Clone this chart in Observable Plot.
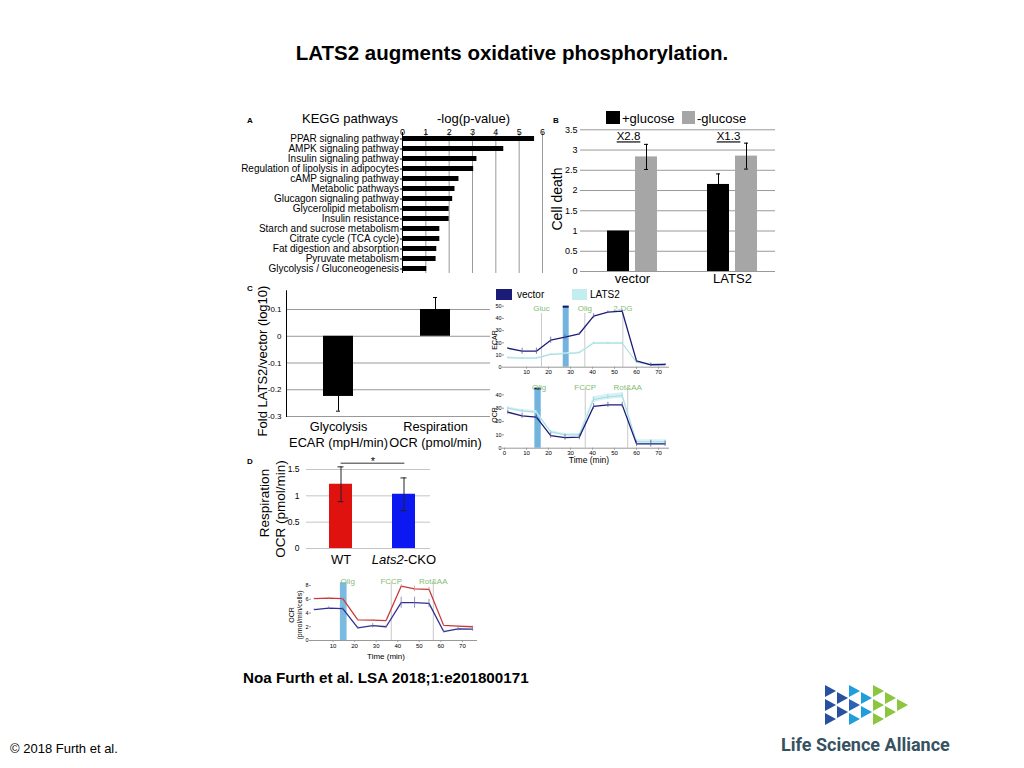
<!DOCTYPE html>
<html><head><meta charset="utf-8">
<script src="https://cdn.jsdelivr.net/npm/d3@7"></script>
<script src="https://cdn.jsdelivr.net/npm/@observablehq/plot@0.6"></script>
<style>
html,body{margin:0;padding:0;background:#fff;}
#root{position:relative;width:1024px;height:768px;overflow:hidden;background:#fff;font-family:"Liberation Sans",Arial,Helvetica,sans-serif;color:#000;}
.lbl{position:absolute;white-space:nowrap;line-height:1;}
.panel{position:absolute;}
.panel svg{overflow:visible;display:block;}
.sw{position:absolute;}
</style></head><body><div id="root"></div>
<script>
// ---------------- DATA ----------------
const titleText = "LATS2 augments oxidative phosphorylation.";
const captionText = "Noa Furth et al. LSA 2018;1:e201800171";
const copyrightText = "© 2018 Furth et al.";
const brandText = "Life Science Alliance";

// Panel A – KEGG pathways
const keggPathways = ["PPAR signaling pathway","AMPK signaling pathway","Insulin signaling pathway","Regulation of lipolysis in adipocytes","cAMP signaling pathway","Metabolic pathways","Glucagon signaling pathway","Glycerolipid metabolism","Insulin resistance","Starch and sucrose metabolism","Citrate cycle (TCA cycle)","Fat digestion and absorption","Pyruvate metabolism","Glycolysis / Gluconeogenesis"];
const keggScores = [5.66, 4.34, 3.19, 3.05, 2.42, 2.25, 2.15, 2.0, 2.0, 1.6, 1.6, 1.47, 1.44, 1.04];
const keggTicks = [0, 1, 2, 3, 4, 5, 6];

// Panel B – cell death
const deathGroups = ["vector", "LATS2"];
const deathConditions = ["+glucose", "-glucose"];
const deathPlus = [1.0, 2.15];
const deathMinus = [2.83, 2.85];
const deathPlusErr = [0, 0.26];
const deathMinusErr = [0.31, 0.32];
const deathFolds = ["X2.8", "X1.3"];
const deathFoldLevel = 3.33;
const deathTicks = [0, 0.5, 1, 1.5, 2, 2.5, 3, 3.5];

// Panel C – fold change
const foldCategories = ["Glycolysis\nECAR (mpH/min)", "Respiration\nOCR (pmol/min)"];
const foldValues = [-0.225, 0.1];
const foldErrors = [0.055, 0.045];
const foldTicks = [-0.3, -0.2, -0.1, 0, 0.1];

// Seahorse traces (cell lines)
const seahorseTimes = [1.5, 8, 14.5, 21, 27.5, 34, 40.5, 47, 53.5, 60, 66.5, 73];
const ecarVector = [15.6, 13.1, 13.1, 22.1, 24.6, 27.4, 41.8, 45.1, 45.9, 5.2, 2.0, 2.2];
const ecarVectorErr = [0.5, 2.5, 2.5, 2.5, 2, 1, 2, 1, 1, 1.5, 1.5, 0.5];
const ecarLats2 = [7.7, 7.4, 7.4, 10.4, 11.1, 11.8, 19.7, 19.7, 19.7, 4.1, 2.2, 2.2];
const ecarLats2Err = [0.6, 0.6, 0.6, 0.6, 0.6, 0.6, 0.7, 0.7, 0.7, 0.8, 0.8, 0.8];
const ecarInjectionNames = ["Gluc", "Olig", "2-DG"];
const ecarInjectionTimes = [16.8, 36.5, 53.8];
const ecarWindow = [26.7, 29.4];
const ecarYTicks = [0, 10, 20, 30, 40, 50];
const ecarXTicks = [10, 20, 30, 40, 50, 60, 70];

const ocrVector = [27, 24.3, 23.3, 9.5, 8.0, 8.3, 31.3, 32.5, 32.5, 3.3, 3.3, 3.3];
const ocrVectorErr = [1.5, 2, 2, 2, 2, 2, 2, 2, 2, 2, 2.5, 2];
const ocrLats2 = [30, 28, 27, 12.3, 10, 10, 36.5, 38.5, 39.5, 4.8, 4.8, 4.8];
const ocrLats2Err = [1, 1, 1, 1, 1, 1, 2, 2, 2, 1.5, 1.5, 1.5];
const ocrInjectionNames = ["FCCP", "Rot&AA"];
const ocrInjectionTimes = [36.7, 56];
const ocrWindow = [13.8, 16.7];
const ocrWindowName = "Olig";
const ocrYTicks = [0, 10, 20, 30, 40];
const ocrXTicks = [0, 10, 20, 30, 40, 50, 60, 70];
const seriesNames = ["vector", "LATS2"];

// Panel D – mouse respiration
const respGroups = ["WT", "Lats2-CKO"];
const respValues = [1.22, 1.03];
const respErrors = [0.33, 0.31];
const respTicks = [0, 0.5, 1, 1.5];
const sigLevel = 1.62;
const sigLabel = "*";

// Mouse OCR trace
const mouseTimes = [1.3, 8, 14.5, 21.5, 28.4, 34.6, 41.6, 47.8, 54.5, 61.3, 68, 74.7];
const mouseWT = [6.1, 6.15, 6.1, 3.0, 2.95, 2.9, 7.9, 7.5, 7.45, 2.2, 2.1, 2.0];
const mouseWTErr = [0.1, 0.15, 0.15, 0.1, 0.1, 0.1, 0.2, 0.4, 0.3, 0.1, 0.1, 0.1];
const mouseCKO = [4.5, 4.7, 4.65, 1.85, 2.15, 2.0, 5.5, 5.5, 5.4, 1.3, 1.7, 1.65];
const mouseCKOErr = [0.1, 0.2, 0.2, 0.2, 0.3, 0.2, 0.8, 0.8, 0.6, 0.2, 0.3, 0.3];
const mouseInjectionNames = ["FCCP", "Rot&AA"];
const mouseInjectionTimes = [37, 56.5];
const mouseWindow = [13.4, 16.5];
const mouseYTicks = [0, 2, 4, 6, 8];
const mouseXTicks = [10, 20, 30, 40, 50, 60, 70];

// ---------------- HELPERS ----------------
const FONT = '"Liberation Sans", Arial, Helvetica, sans-serif';
const root = document.getElementById("root");
const plain = d => String(Math.round(d * 100) / 100);
function mount(svg, left, top) {
  const w = document.createElement("div");
  w.className = "panel"; w.style.left = left + "px"; w.style.top = top + "px";
  w.appendChild(svg); root.appendChild(w); return svg;
}
function label(html, x, y, o = {}) {
  const d = document.createElement("div");
  d.className = "lbl";
  const ax = o.anchor === "middle" ? "-50%" : o.anchor === "end" ? "-100%" : "0";
  d.style.left = x + "px"; d.style.top = y + "px";
  d.style.fontSize = (o.size || 12) + "px";
  if (o.bold) d.style.fontWeight = "bold";
  if (o.weight) d.style.fontWeight = o.weight;
  if (o.color) d.style.color = o.color;
  if (o.font) d.style.fontFamily = o.font;
  if (o.rotate) d.style.transform = `translate(-50%,-50%) rotate(${o.rotate}deg)`;
  else d.style.transform = `translate(${ax},-50%)`;
  d.innerHTML = html; root.appendChild(d); return d;
}
function swatch(x, y, w, h, color) {
  const d = document.createElement("div");
  d.className = "sw";
  d.style.cssText = `left:${x}px;top:${y}px;width:${w}px;height:${h}px;background:${color};`;
  root.appendChild(d);
}
const baseStyle = {fontFamily: FONT, background: "transparent", color: "#000"};

// ---------------- TEXT ----------------
label(titleText, 512, 53, {size: 20.5, bold: true, anchor: "middle"});
label(captionText, 243, 678, {size: 15.2, bold: true});
label(copyrightText, 10, 748, {size: 13});

// ---------------- PANEL A ----------------
label("A", 247, 121, {size: 8, bold: true});
label("KEGG pathways", 302, 118, {size: 13});
label("-log(p-value)", 437, 118, {size: 13});
const keggData = keggPathways.map((p, i) => ({pathway: p, score: keggScores[i]}));
mount(Plot.plot({
  width: 310, height: 170, marginLeft: 162, marginRight: 8, marginTop: 27, marginBottom: 2,
  style: baseStyle,
  x: {domain: [0, 6], label: null},
  y: {domain: keggPathways, paddingInner: 0.55, paddingOuter: 0.275, insetTop: 1, label: null},
  marks: [
    Plot.gridX(keggTicks.slice(1), {stroke: "#9a9a9a", strokeOpacity: 1}),
    Plot.barX(keggData, {y: "pathway", x: "score", fill: "#000"}),
    Plot.ruleX([0], {stroke: "#000"}),
    Plot.axisX(keggTicks, {anchor: "top", tickSize: 0, tickPadding: 0, fontSize: 9, dy: 2, tickFormat: plain, label: null}),
    Plot.axisY({tickSize: 2, tickPadding: 1.5, fontSize: 10, label: null})
  ]
}), 240, 105);

// ---------------- PANEL B ----------------
label("B", 553, 121, {size: 8, bold: true});
swatch(606, 111, 14, 13, "#000");
label(deathConditions[0], 622, 118, {size: 13});
swatch(682, 111, 13, 13, "#a6a6a6");
label(deathConditions[1], 697, 118, {size: 13});
label("Cell death", 557, 199, {size: 14, rotate: -90});
const deathData = deathGroups.flatMap((g, i) => [
  {group: g, cond: deathConditions[0], value: deathPlus[i], err: deathPlusErr[i]},
  {group: g, cond: deathConditions[1], value: deathMinus[i], err: deathMinusErr[i]}
]);
const deathErr = deathData.filter(d => d.err > 0);
const deathAnnot = deathGroups.map((g, i) => ({group: g, text: deathFolds[i]}));
const deathFrame = {width: 235, height: 165, marginLeft: 35, marginRight: 5, marginTop: 4.3, marginBottom: 19};
// base layer: continuous grid + y axis
mount(Plot.plot({
  ...deathFrame, style: baseStyle,
  y: {domain: [0, 3.5], label: null},
  marks: [
    Plot.gridY(deathTicks, {stroke: "#999", strokeOpacity: 1}),
    Plot.axisY(deathTicks, {tickSize: 0, tickPadding: 3, fontSize: 9, tickFormat: plain, label: null})
  ]
}), 545, 125);
// bar layer: faceted by group
const svgB = mount(Plot.plot({
  ...deathFrame, style: baseStyle,
  fx: {domain: deathGroups, paddingInner: 0.383, paddingOuter: 0.12, insetLeft: 8, label: null},
  x: {domain: deathConditions, padding: 0.214, axis: null, label: null},
  y: {domain: [0, 3.5], axis: null, label: null},
  color: {domain: deathConditions, range: ["#000000", "#a6a6a6"]},
  marks: [
    Plot.barY(deathData, {fx: "group", x: "cond", y: "value", fill: "cond"}),
    Plot.ruleX(deathErr, {fx: "group", x: "cond", y1: d => d.value - d.err, y2: d => d.value + d.err, stroke: "#000"}),
    Plot.tickY(deathErr, {fx: "group", x: "cond", y: d => d.value + d.err, stroke: "#000", insetLeft: 9, insetRight: 9}),
    Plot.tickY(deathErr, {fx: "group", x: "cond", y: d => d.value - d.err, stroke: "#000", insetLeft: 9, insetRight: 9}),
    Plot.text(deathAnnot, {fx: "group", text: "text", y: deathFoldLevel, dx: -4, fontSize: 11.5}),
    Plot.axisFx({anchor: "bottom", tickSize: 0, tickPadding: 2, fontSize: 13, label: null})
  ]
}), 545, 125);
svgB.querySelectorAll("text").forEach(t => { if (deathFolds.includes(t.textContent)) t.style.textDecoration = "underline"; });

// ---------------- PANEL C ----------------
label("C", 247, 289, {size: 8, bold: true});
label("Fold LATS2/vector (log10)", 262, 361, {size: 13, rotate: -90});
const foldData = foldCategories.map((c, i) => ({cat: c, value: foldValues[i], err: foldErrors[i]}));
mount(Plot.plot({
  width: 245, height: 165, marginLeft: 41, marginRight: 0, marginTop: 5.3, marginBottom: 34,
  style: baseStyle,
  x: {domain: foldCategories, paddingInner: 0.69, paddingOuter: 0.386, align: 0.476, label: null},
  y: {domain: [-0.3, 0.17], label: null},
  marks: [
    Plot.gridY(foldTicks, {stroke: "#999", strokeOpacity: 1}),
    Plot.barY(foldData, {x: "cat", y: "value", fill: "#000"}),
    Plot.ruleX(foldData, {x: "cat", y1: d => d.value - d.err, y2: d => d.value + d.err, stroke: "#000"}),
    Plot.tickY(foldData, {x: "cat", y: d => d.value + d.err, stroke: "#000", insetLeft: 13, insetRight: 13}),
    Plot.tickY(foldData, {x: "cat", y: d => d.value - d.err, stroke: "#000", insetLeft: 13, insetRight: 13}),
    Plot.frame({anchor: "left", stroke: "#000"}),
    Plot.axisY(foldTicks, {tickSize: 0, tickPadding: 5, fontSize: 8, tickFormat: plain, label: null}),
    Plot.axisX({tickSize: 0, tickPadding: 3, fontSize: 12.8, lineHeight: 1.25, label: null})
  ]
}), 245, 285);

// ---------------- SEAHORSE (cell lines) ----------------
const NAVY = "#1b1b78", CYAN = "#a3dde3", GREEN = "#84bd73", VLINE = "#c9c9c9";
swatch(496, 289, 16, 11, NAVY);
label(seriesNames[0], 517, 295, {size: 10});
swatch(572, 289, 15, 11, "#c2eef0");
label(seriesNames[1], 590, 295, {size: 10});
label("ECAR", 494, 340, {size: 7, rotate: -90});
label("OCR", 494, 415, {size: 7, rotate: -90});
label("Time (min)", 589, 460, {size: 8.5, anchor: "middle"});

const tsECAR = seahorseTimes.map((t, i) => ({t, v: ecarVector[i], ve: ecarVectorErr[i], l: ecarLats2[i], le: ecarLats2Err[i]}));
mount(Plot.plot({
  width: 190, height: 78, marginLeft: 19, marginRight: 6, marginTop: 5.7, marginBottom: 11.3,
  style: baseStyle,
  x: {domain: [0, 75], label: null}, y: {domain: [0, 50], label: null},
  marks: [
    Plot.rect([ecarWindow], {x1: d => d[0], x2: d => d[1], y1: 0, y2: 50, fill: "#72b4de"}),
    Plot.rect([ecarWindow], {x1: d => d[0], x2: d => d[1], y1: 48.4, y2: 50, fill: "#141466"}),
    Plot.ruleX(ecarInjectionTimes, {x: d => d, y1: 0, y2: 44, stroke: VLINE}),
    Plot.text(ecarInjectionTimes, {x: d => d, y: 50, text: (d, i) => ecarInjectionNames[i], lineAnchor: "top", dy: -1, fill: GREEN, fontSize: 8}),
    Plot.areaY(tsECAR, {x: "t", y1: d => d.l - d.le, y2: d => d.l + d.le, fill: "#d8f2f4"}),
    Plot.line(tsECAR, {x: "t", y: "l", stroke: CYAN, strokeWidth: 1}),
    Plot.ruleX(tsECAR, {x: "t", y1: d => d.l - d.le, y2: d => d.l + d.le, stroke: CYAN}),
    Plot.line(tsECAR, {x: "t", y: "v", stroke: NAVY, strokeWidth: 1.3}),
    Plot.ruleX(tsECAR, {x: "t", y1: d => d.v - d.ve, y2: d => d.v + d.ve, stroke: "#5a5aa0", strokeWidth: 0.8}),
    Plot.ruleY([0], {stroke: "#999"}),
    Plot.axisX(ecarXTicks, {tickSize: 2, tickPadding: 1, fontSize: 6, stroke: "#999", label: null}),
    Plot.axisY(ecarYTicks, {tickSize: 2, tickPadding: 1, fontSize: 5.5, stroke: "#999", label: null})
  ]
}), 485, 300);

const tsOCR = seahorseTimes.map((t, i) => ({t, v: ocrVector[i], ve: ocrVectorErr[i], l: ocrLats2[i], le: ocrLats2Err[i]}));
mount(Plot.plot({
  width: 190, height: 90, marginLeft: 19, marginRight: 6, marginTop: 12.7, marginBottom: 17.3,
  style: baseStyle,
  x: {domain: [0, 75], label: null}, y: {domain: [0, 45], label: null},
  marks: [
    Plot.rect([ocrWindow], {x1: d => d[0], x2: d => d[1], y1: 0, y2: 45, fill: "#72b4de"}),
    Plot.rect([ocrWindow], {x1: d => d[0], x2: d => d[1], y1: 43.5, y2: 45, fill: "#141466"}),
    Plot.text([ocrWindow], {x: d => (d[0] + d[1]) / 2, y: 45, text: () => ocrWindowName, lineAnchor: "bottom", dy: 1.5, dx: 1, fill: GREEN, fontSize: 8}),
    Plot.ruleX(ocrInjectionTimes, {x: d => d, y1: 0, y2: 45, stroke: VLINE}),
    Plot.text(ocrInjectionTimes, {x: d => d, y: 45, text: (d, i) => ocrInjectionNames[i], lineAnchor: "bottom", dy: 1.5, fill: GREEN, fontSize: 8}),
    Plot.areaY(tsOCR, {x: "t", y1: d => d.l - d.le, y2: d => d.l + d.le, fill: "#d8f2f4"}),
    Plot.line(tsOCR, {x: "t", y: "l", stroke: CYAN, strokeWidth: 1}),
    Plot.ruleX(tsOCR, {x: "t", y1: d => d.l - d.le, y2: d => d.l + d.le, stroke: CYAN}),
    Plot.line(tsOCR, {x: "t", y: "v", stroke: NAVY, strokeWidth: 1.3}),
    Plot.ruleX(tsOCR, {x: "t", y1: d => d.v - d.ve, y2: d => d.v + d.ve, stroke: "#5a5aa0", strokeWidth: 0.8}),
    Plot.ruleY([0], {stroke: "#999"}),
    Plot.axisX(ocrXTicks, {tickSize: 2, tickPadding: 1, fontSize: 6, stroke: "#999", label: null}),
    Plot.axisY(ocrYTicks, {tickSize: 2, tickPadding: 1, fontSize: 5.5, stroke: "#999", label: null})
  ]
}), 485, 375);

// ---------------- PANEL D ----------------
label("D", 247, 462, {size: 8, bold: true});
label("Respiration", 265, 503, {size: 13.5, rotate: -90});
label("OCR (pmol/min)", 281, 509, {size: 13.5, rotate: -90});
const respColors = ["#e0120f", "#0c18f2"];
const respData = respGroups.map((g, i) => ({group: g, value: respValues[i], err: respErrors[i]}));
const svgD = mount(Plot.plot({
  width: 180, height: 120, marginLeft: 56, marginRight: 0, marginTop: 14, marginBottom: 27,
  style: baseStyle,
  x: {domain: respGroups, paddingInner: 0.63, paddingOuter: 0.29, align: 0.61, label: null},
  y: {domain: [0, 1.5], label: null},
  color: {domain: respGroups, range: respColors},
  marks: [
    Plot.gridY(respTicks, {stroke: "#c4c4c4", strokeOpacity: 1}),
    Plot.barY(respData, {x: "group", y: "value", fill: "group"}),
    Plot.ruleX(respData, {x: "group", y1: d => d.value - d.err, y2: d => d.value + d.err, stroke: "#222"}),
    Plot.tickY(respData, {x: "group", y: d => d.value + d.err, stroke: "#222", insetLeft: 8.5, insetRight: 8.5}),
    Plot.tickY(respData, {x: "group", y: d => d.value - d.err, stroke: "#222", insetLeft: 8.5, insetRight: 8.5}),
    Plot.line(respGroups, {x: d => d, y: sigLevel, stroke: "#333", strokeWidth: 1}),
    Plot.text([respGroups[0]], {x: d => d, y: sigLevel, text: () => sigLabel, dx: 32, lineAnchor: "bottom", dy: 2, fontSize: 11}),
    Plot.axisY(respTicks, {tickSize: 0, tickPadding: 7, fontSize: 8.5, tickFormat: plain, label: null}),
    Plot.axisX({tickSize: 0, tickPadding: 6, fontSize: 13, label: null})
  ]
}), 250, 455);
svgD.querySelectorAll("text").forEach(t => {
  if (t.textContent === "Lats2-CKO") {
    t.textContent = "";
    const ns = "http://www.w3.org/2000/svg";
    const a = document.createElementNS(ns, "tspan"); a.setAttribute("font-style", "italic"); a.textContent = "Lats2";
    const b = document.createElementNS(ns, "tspan"); b.textContent = "-CKO";
    t.appendChild(a); t.appendChild(b);
  }
});

// ---------------- Mouse OCR trace ----------------
label("OCR", 291, 615, {size: 7, rotate: -90});
label("(pmol/min/cells)", 299, 615, {size: 7, rotate: -90});
label("Time (min)", 386, 657, {size: 8, anchor: "middle"});
const tsMouse = mouseTimes.map((t, i) => ({t, w: mouseWT[i], we: mouseWTErr[i], c: mouseCKO[i], ce: mouseCKOErr[i]}));
const RED = "#c83a3a", BLUE = "#2f2f95";
mount(Plot.plot({
  width: 200, height: 95, marginLeft: 31, marginRight: 3, marginTop: 12.25, marginBottom: 25,
  style: baseStyle,
  x: {domain: [0, 77], label: null}, y: {domain: [0, 8.4], label: null},
  marks: [
    Plot.rect([mouseWindow], {x1: d => d[0], x2: d => d[1], y1: 0, y2: 8.4, fill: "#7bbbe2"}),
    Plot.text([mouseWindow], {x: d => (d[0] + d[1]) / 2, y: 8.4, text: () => ocrWindowName, lineAnchor: "bottom", dy: 1, dx: 4, fill: GREEN, fontSize: 8}),
    Plot.ruleX(mouseInjectionTimes, {x: d => d, y1: 0, y2: 8.4, stroke: VLINE}),
    Plot.text(mouseInjectionTimes, {x: d => d, y: 8.4, text: (d, i) => mouseInjectionNames[i], lineAnchor: "bottom", dy: 1, fill: GREEN, fontSize: 8}),
    Plot.line(tsMouse, {x: "t", y: "w", stroke: RED, strokeWidth: 1.3}),
    Plot.ruleX(tsMouse, {x: "t", y1: d => d.w - d.we, y2: d => d.w + d.we, stroke: "#d88", strokeWidth: 0.8}),
    Plot.line(tsMouse, {x: "t", y: "c", stroke: BLUE, strokeWidth: 1.3}),
    Plot.ruleX(tsMouse, {x: "t", y1: d => d.c - d.ce, y2: d => d.c + d.ce, stroke: "#77a", strokeWidth: 0.8}),
    Plot.ruleY([0], {stroke: "#999"}),
    Plot.axisX(mouseXTicks, {tickSize: 2, tickPadding: 1, fontSize: 6, stroke: "#999", label: null}),
    Plot.axisY(mouseYTicks, {tickSize: 2, tickPadding: 1, fontSize: 5.5, stroke: "#999", label: null})
  ]
}), 280, 570);

// ---------------- Brand logo ----------------
const logoCounts = [3, 2, 3, 2, 3, 2, 1];
const logoColors = ["#27509f", "#27509f", "#1f9edb", "#1f9edb", "#8cc63f", "#8cc63f", "#8cc63f"];
(function () {
  const ns = "http://www.w3.org/2000/svg";
  const svg = document.createElementNS(ns, "svg");
  svg.setAttribute("width", 95); svg.setAttribute("height", 50);
  svg.style.cssText = "position:absolute;left:822px;top:680px;";
  const cy = 25, pitch = 14, tw = 11, th = 12, step = 12;
  logoCounts.forEach((n, c) => {
    for (let k = 0; k < n; k++) {
      const y = cy + (k - (n - 1) / 2) * pitch;
      const x = 3 + c * step;
      const p = document.createElementNS(ns, "polygon");
      p.setAttribute("points", `${x},${y - th / 2} ${x + tw},${y} ${x},${y + th / 2}`);
      p.setAttribute("fill", (c === 2 && k === 1) ? "#2c62b4" : logoColors[c]);
      svg.appendChild(p);
    }
  });
  root.appendChild(svg);
})();
label(brandText, 781, 745, {size: 18, weight: 700, color: "#36525f", font: "Roboto, 'Open Sans', sans-serif"});
</script>
</body></html>
